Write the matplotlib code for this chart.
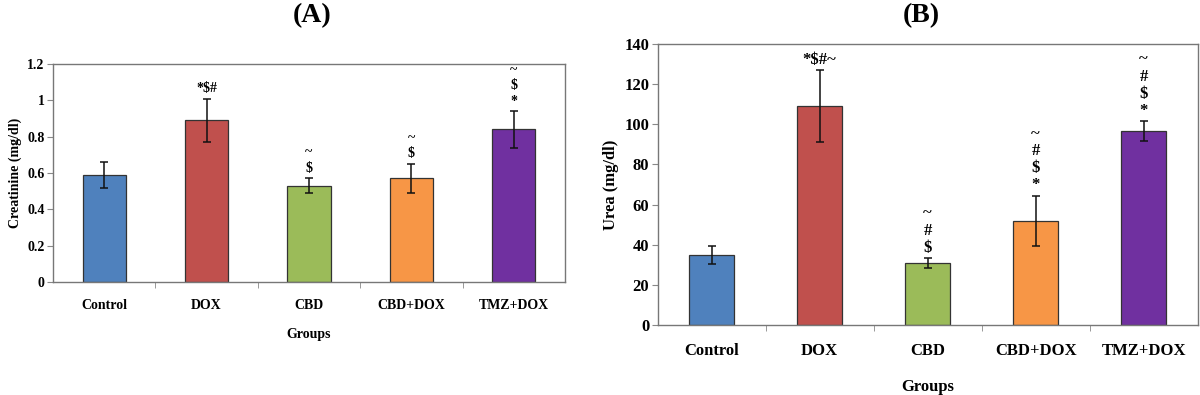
import numpy as np
import matplotlib
matplotlib.use("Agg")
import matplotlib.pyplot as plt

plt.rcParams["font.family"] = ["Liberation Serif", "DejaVu Serif"]
plt.rcParams["font.weight"] = "bold"

groups = ["Control", "DOX", "CBD", "CBD+DOX", "TMZ+DOX"]
colors = ["#4F81BD", "#C0504D", "#9BBB59", "#F79646", "#7030A0"]

creat_mean = [0.59, 0.89, 0.53, 0.57, 0.84]
creat_err = [0.07, 0.12, 0.04, 0.08, 0.10]
creat_marks = ["", "*$#", "~\n$", "~\n$", "~\n$\n*"]

urea_mean = [35, 109, 31, 52, 96.5]
urea_err = [4.5, 18, 2.5, 12.5, 5]
urea_marks = ["", "*$#~", "~\n#\n$", "~\n#\n$\n*", "~\n#\n$\n*"]

fig = plt.figure(figsize=(12, 3.95), dpi=100)
axA = fig.add_axes([0.044, 0.286, 0.427, 0.552])
axB = fig.add_axes([0.548, 0.177, 0.450, 0.712])


def draw(ax, mean, err, marks, ymax, step, ylabel, fs, lab_pad, xlab_pad, ls, lift):
    x = np.arange(len(groups))
    ax.bar(x, mean, width=0.42, color=colors, edgecolor="#333333", linewidth=0.9, zorder=2)
    ax.errorbar(x, mean, yerr=err, fmt="none", ecolor="#111111", elinewidth=1.1,
                capsize=3, capthick=1.1, zorder=3)
    for xi, m, e, t in zip(x, mean, err, marks):
        if t:
            ax.annotate(t, (xi, m + e), xytext=(0, lift), textcoords="offset points",
                        ha="center", va="bottom", fontsize=fs, linespacing=ls,
                        fontweight="bold", parse_math=False)
    ax.set_xlim(-0.5, len(groups) - 0.5)
    ax.set_ylim(0, ymax)
    ticks = np.arange(0, ymax + step / 2, step)
    ax.set_yticks(ticks)
    ax.set_yticklabels([f"{v:g}" for v in ticks], fontsize=fs)
    ax.set_xticks(x)
    ax.set_xticklabels(groups, fontsize=fs)
    ax.tick_params(axis="x", length=0, pad=lab_pad)
    ax.set_xticks(np.arange(0.5, len(groups) - 0.5, 1), minor=True)
    ax.tick_params(axis="x", which="minor", length=4, color="#888888", direction="out")
    ax.tick_params(axis="y", length=4, color="#888888", pad=2)
    for s in ax.spines.values():
        s.set_color("#777777")
        s.set_linewidth(1.0)
    ax.set_ylabel(ylabel, fontsize=fs, fontweight="bold")
    ax.set_xlabel("Groups", fontsize=fs, fontweight="bold", labelpad=xlab_pad)


draw(axA, creat_mean, creat_err, creat_marks, 1.2, 0.2, "Creatinine (mg/dl)", 10, 12, 12, 1.25, 2.5)
draw(axB, urea_mean, urea_err, urea_marks, 140, 20, "Urea (mg/dl)", 12, 13, 14, 1.1, 1.5)

fig.text(0.26, 0.96, "(A)", ha="center", va="center", fontsize=20, fontweight="bold")
fig.text(0.768, 0.96, "(B)", ha="center", va="center", fontsize=20, fontweight="bold")

fig.savefig("out.png", dpi=100)
